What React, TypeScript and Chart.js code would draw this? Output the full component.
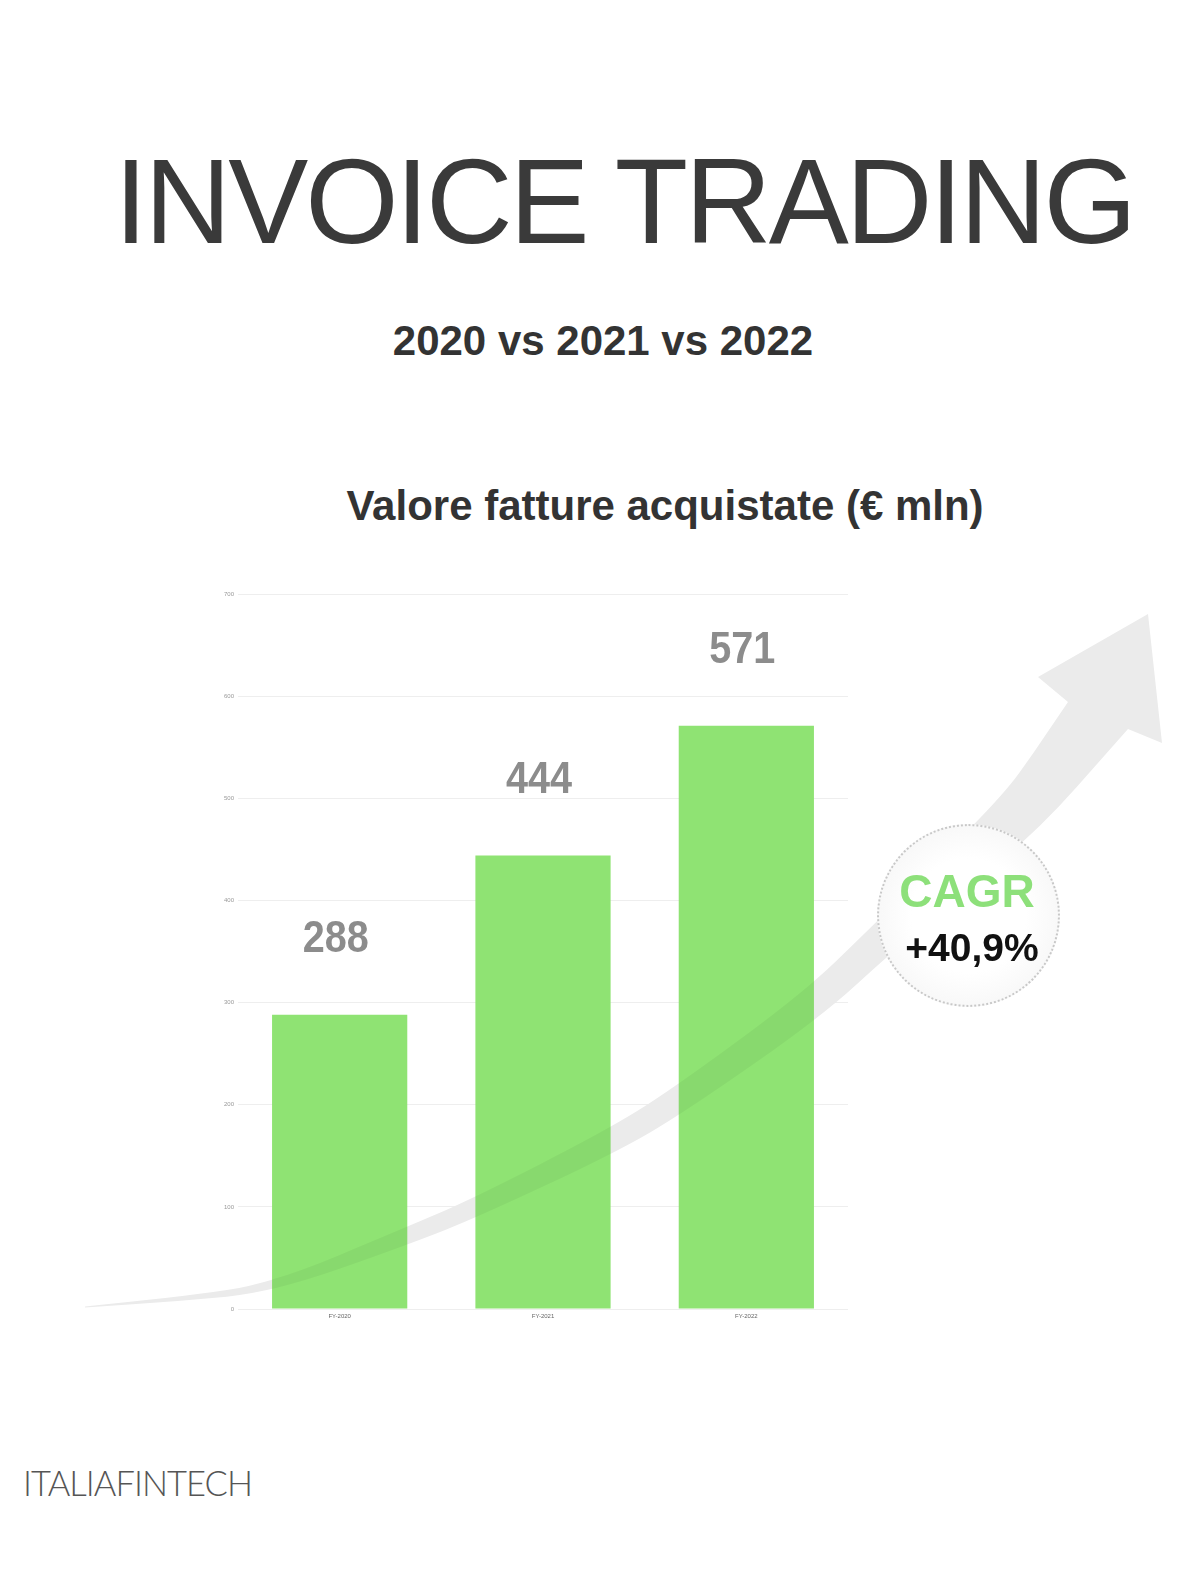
import React, { useEffect, useRef } from "react";
import { Chart, registerables } from "chart.js";

Chart.register(...registerables);

// ---- data ----
const categories = ["FY-2020", "FY-2021", "FY-2022"];
const values = [288, 444, 571];
const yMin = 0;
const yMax = 700;
const yStep = 100;

const title = "INVOICE TRADING";
const subtitle = "2020 vs 2021 vs 2022";
const chartTitle = "Valore fatture acquistate (€ mln)";
const cagrLabel = "CAGR";
const cagrValue = "+40,9%";
const brand = "ITALIAFINTECH";

// ---- decoration (background growth arrow), page coordinates [x, y, width] ----
const ARROW_SPINE: number[][] = [
  [85, 1307, 1],
  [180, 1299, 4],
  [272, 1288, 9],
  [407, 1236, 17],
  [475, 1208, 19],
  [610, 1142, 24],
  [678, 1101, 26],
  [812, 1005, 30],
  [878, 943, 32],
  [950, 877, 40],
  [1023, 810, 50],
  [1055, 770, 55],
];
const ARROW_HEAD: number[][] = [
  [1068, 702],
  [1038, 677],
  [1148, 614],
  [1162, 743],
  [1128, 729],
];

const FONT = '"Liberation Sans", Arial, Helvetica, sans-serif';
const CANVAS_TOP = 560;

function smoothPath(ctx: CanvasRenderingContext2D, pts: number[][], move: boolean) {
  if (move) ctx.moveTo(pts[0][0], pts[0][1]);
  else ctx.lineTo(pts[0][0], pts[0][1]);
  for (let i = 1; i < pts.length - 1; i++) {
    const mx = (pts[i][0] + pts[i + 1][0]) / 2;
    const my = (pts[i][1] + pts[i + 1][1]) / 2;
    ctx.quadraticCurveTo(pts[i][0], pts[i][1], mx, my);
  }
  const l = pts[pts.length - 1];
  ctx.lineTo(l[0], l[1]);
}

function arrowPath(ctx: CanvasRenderingContext2D, offY: number) {
  const upper: number[][] = [];
  const lower: number[][] = [];
  const n = ARROW_SPINE.length;
  for (let i = 0; i < n; i++) {
    const a = ARROW_SPINE[Math.max(0, i - 1)];
    const b = ARROW_SPINE[Math.min(n - 1, i + 1)];
    let dx = b[0] - a[0];
    let dy = b[1] - a[1];
    const len = Math.hypot(dx, dy) || 1;
    dx /= len;
    dy /= len;
    const [cx, cy, w] = ARROW_SPINE[i];
    upper.push([cx + dy * w / 2, cy - dx * w / 2 + offY]);
    lower.push([cx - dy * w / 2, cy + dx * w / 2 + offY]);
  }
  ctx.beginPath();
  smoothPath(ctx, upper, true);
  for (const p of ARROW_HEAD) ctx.lineTo(p[0], p[1] + offY);
  smoothPath(ctx, lower.slice().reverse(), false);
  ctx.closePath();
}

const overlayPlugin = {
  id: "overlay",
  beforeDatasetsDraw(chart: any) {
    const ctx: CanvasRenderingContext2D = chart.ctx;
    ctx.save();
    arrowPath(ctx, -CANVAS_TOP);
    ctx.fillStyle = "#ebebeb";
    ctx.fill();
    ctx.restore();
  },
  afterDatasetsDraw(chart: any) {
    const ctx: CanvasRenderingContext2D = chart.ctx;
    const meta = chart.getDatasetMeta(0);
    // faint arrow visible through the bars
    ctx.save();
    ctx.beginPath();
    meta.data.forEach((bar: any) => {
      const w = bar.width;
      ctx.rect(bar.x - w / 2, bar.y, w, bar.base - bar.y);
    });
    ctx.clip();
    arrowPath(ctx, -CANVAS_TOP);
    ctx.fillStyle = "rgba(0,0,0,0.045)";
    ctx.fill();
    ctx.restore();

    ctx.save();
    ctx.fillStyle = "#8c8c8c";
    ctx.font = `bold 45px ${FONT}`;
    ctx.textAlign = "center";
    ctx.textBaseline = "middle";
    meta.data.forEach((bar: any, i: number) => {
      const x = bar.x - 4;
      const y = bar.y - 75;
      ctx.save();
      ctx.translate(x, y);
      ctx.scale(0.88, 1);
      ctx.fillText(String(values[i]), 0, 0);
      ctx.restore();
    });
    ctx.restore();
  },
};

function Txt(props: {
  x: number;
  base: number;
  size: number;
  weight?: number | string;
  color: string;
  text: string;
  spacing?: number;
  family?: string;
  asc?: number;
}) {
  const asc = props.asc ?? 0.8465;
  return (
    <div
      style={{
        position: "absolute",
        left: props.x - 1000,
        width: 2000,
        top: props.base - asc * props.size,
        textAlign: "center",
        fontFamily: props.family ?? FONT,
        fontSize: props.size,
        lineHeight: `${props.size}px`,
        fontWeight: props.weight ?? 400,
        color: props.color,
        letterSpacing: props.spacing ?? 0,
        whiteSpace: "nowrap",
      }}
    >
      {props.text}
    </div>
  );
}

export default function App() {
  const canvasRef = useRef<HTMLCanvasElement | null>(null);
  const brandRef = useRef<HTMLSpanElement | null>(null);

  useEffect(() => {
    if (!canvasRef.current) return;
    const chart = new Chart(canvasRef.current, {
      type: "bar",
      data: {
        labels: categories,
        datasets: [
          {
            data: values,
            backgroundColor: "#8fe373",
            borderWidth: 0,
            barPercentage: 0.665,
            categoryPercentage: 1,
          },
        ],
      },
      options: {
        responsive: false,
        animation: false,
        layout: { padding: { left: 200, right: 352, top: 34, bottom: 11 } },
        plugins: {
          legend: { display: false },
          tooltip: { enabled: false },
          title: { display: false },
        },
        scales: {
          x: {
            grid: { display: false, drawTicks: false },
            border: { display: false },
            ticks: { font: { size: 6, family: FONT }, color: "#666", padding: 4 },
            afterFit: (s: any) => {
              s.height = 20;
            },
          },
          y: {
            min: yMin,
            max: yMax,
            ticks: { stepSize: yStep, font: { size: 6, family: FONT }, color: "#999", padding: 4 },
            grid: { color: "#eeeeee", drawTicks: false },
            border: { display: false },
            afterFit: (s: any) => {
              s.width = 38;
            },
          },
        },
      },
      plugins: [overlayPlugin],
    } as any);
    return () => chart.destroy();
  }, []);

  useEffect(() => {
    const el = brandRef.current;
    if (!el) return;
    const w = el.getBoundingClientRect().width;
    if (w > 0) el.style.transform = `scaleX(${229 / w})`;
  }, []);

  return (
    <div
      style={{
        position: "absolute",
        left: 0,
        top: 0,
        width: 1200,
        height: 1592,
        background: "#ffffff",
        overflow: "hidden",
      }}
    >
      <Txt x={624} base={243} size={120} color="#3a3a3a" text={title} spacing={-3} />
      <Txt x={603} base={356} size={42} weight={700} color="#333333" text={subtitle} />
      <Txt x={665} base={521} size={42} weight={700} color="#333333" text={chartTitle} />

      <canvas
        ref={canvasRef}
        width={1200}
        height={780}
        style={{ position: "absolute", left: 0, top: CANVAS_TOP, width: 1200, height: 780 }}
      />

      <div
        style={{
          position: "absolute",
          left: 877,
          top: 824,
          width: 183,
          height: 183,
          borderRadius: "50%",
          border: "2px dotted #c8c8c8",
          boxSizing: "border-box",
          background: "radial-gradient(circle, #ffffff 45%, #f1f1f1 100%)",
        }}
      />
      <Txt x={967} base={907} size={46} weight={700} color="#8de07a" text={cagrLabel} />
      <Txt x={972} base={961} size={39} weight={700} color="#111111" text={cagrValue} />

      <div
        style={{
          position: "absolute",
          left: 23,
          top: 1496 - 0.887 * 36,
          fontFamily: "Lato, 'Open Sans', sans-serif",
          fontWeight: 300,
          fontSize: 36,
          lineHeight: "36px",
          color: "#555555",
          whiteSpace: "nowrap",
        }}
      >
        <span ref={brandRef} style={{ display: "inline-block", transformOrigin: "0 0", letterSpacing: -1 }}>
          {brand}
        </span>
      </div>
    </div>
  );
}
